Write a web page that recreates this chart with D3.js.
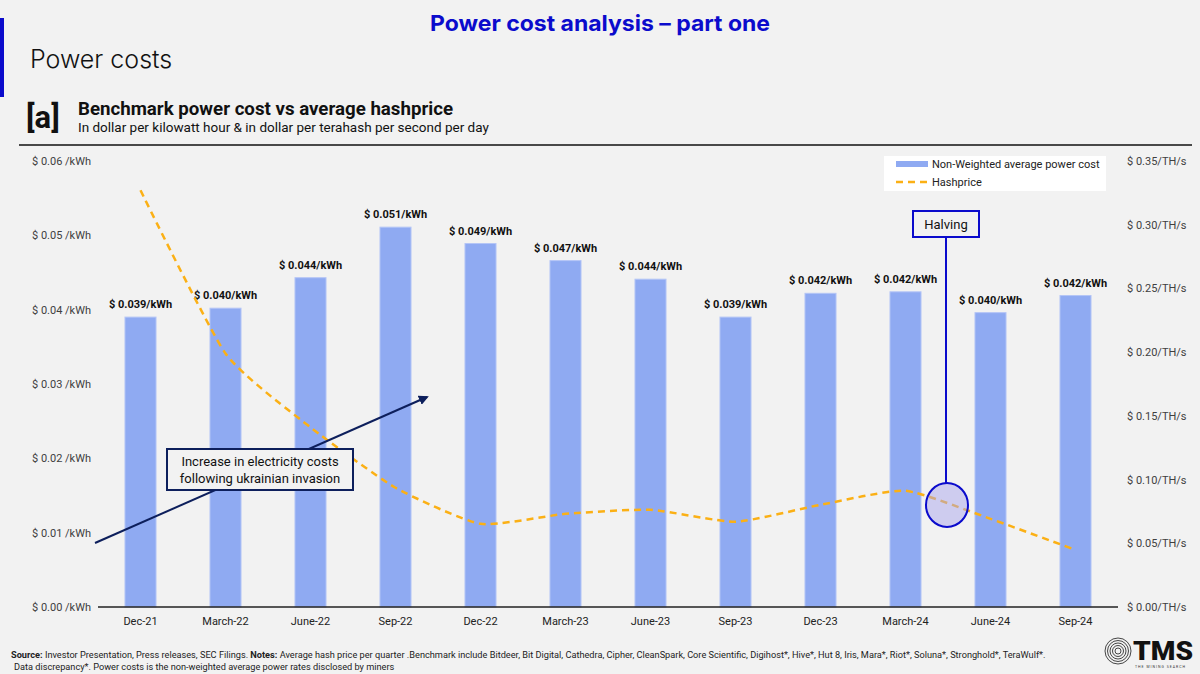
<!DOCTYPE html>
<html>
<head>
<meta charset="utf-8">
<script src="https://cdn.jsdelivr.net/npm/d3@7"></script>
<style>
  body { margin: 0; background: #f2f2f2; }
  svg { display: block; font-family: Roboto, "Noto Sans", sans-serif; }
</style>
</head>
<body>
<svg id="chart" width="1200" height="674"></svg>
<script>
// quarters on the x axis
let quarters = ["Dec-21", "March-22", "June-22", "Sep-22", "Dec-22", "March-23",
    "June-23", "Sep-23", "Dec-23", "March-24", "June-24", "Sep-24"];
// non-weighted average power cost, $/kWh
let powerCost = [0.0390, 0.0402, 0.0443, 0.0511, 0.0489, 0.0466,
    0.0441, 0.0390, 0.0422, 0.0424, 0.0396, 0.0419];
// average hashprice, $/TH/s/day
let hashprice = [0.327, 0.199, 0.141, 0.0936, 0.0653, 0.0731,
    0.0763, 0.0669, 0.0802, 0.0912, 0.0692, 0.0448];
let leftTicks = [0, 0.01, 0.02, 0.03, 0.04, 0.05, 0.06];
let rightTicks = [0, 0.05, 0.10, 0.15, 0.20, 0.25, 0.30, 0.35];

const svg = d3.select("#chart");
const blue = "#0b0bcc";

let x = d3.scaleBand().domain(quarters).range([98, 1118]).paddingInner(0.635).paddingOuter(0.3175);
let yL = d3.scaleLinear().domain([0, 0.06]).range([607, 161]);
let yR = d3.scaleLinear().domain([0, 0.35]).range([607, 161]);

// header
svg.append("text").attr("x", 600).attr("y", 31).attr("text-anchor", "middle")
    .attr("font-family", "Inter").attr("font-size", 22).attr("font-weight", 700).attr("fill", blue)
    .attr("textLength", 340).attr("lengthAdjust", "spacingAndGlyphs")
    .text("Power cost analysis \u2013 part one");
svg.append("rect").attr("x", 0).attr("y", 18).attr("width", 4).attr("height", 79).attr("fill", blue);
svg.append("text").attr("x", 30).attr("y", 68).attr("font-family", "Inter").attr("font-size", 25)
    .attr("font-weight", 300).attr("fill", "#111").text("Power costs");
svg.append("text").attr("x", 26).attr("y", 128).attr("font-size", 31).attr("font-weight", 700)
    .attr("fill", "#111").text("[a]");
svg.append("text").attr("x", 78).attr("y", 115).attr("font-size", 18).attr("font-weight", 700)
    .attr("fill", "#111").attr("textLength", 375).attr("lengthAdjust", "spacingAndGlyphs")
    .text("Benchmark power cost vs average hashprice");
svg.append("text").attr("x", 78).attr("y", 132).attr("font-size", 13.5).attr("font-weight", 400)
    .attr("fill", "#111").text("In dollar per kilowatt hour & in dollar per terahash per second per day");
svg.append("line").attr("x1", 19).attr("x2", 1192).attr("y1", 145).attr("y2", 145)
    .attr("stroke", "#111").attr("stroke-width", 1.5);

// left axis
let gL = svg.append("g").attr("transform", "translate(32,0)")
    .call(d3.axisRight(yL).tickValues(leftTicks).tickSize(0).tickFormat(d => "$ " + d.toFixed(2) + " /kWh"));
gL.select(".domain").remove();
gL.selectAll("text").attr("x", 0).attr("font-size", 11).attr("fill", "#404040").attr("font-family", "Roboto");

// right axis
let gR = svg.append("g").attr("transform", "translate(1127,0)")
    .call(d3.axisRight(yR).tickValues(rightTicks).tickSize(0).tickFormat(d => "$ " + d.toFixed(2) + "/TH/s"));
gR.select(".domain").remove();
gR.selectAll("text").attr("x", 0).attr("font-size", 11).attr("fill", "#404040").attr("font-family", "Roboto");

// bars
svg.append("g").selectAll("rect").data(quarters).join("rect")
    .attr("x", d => x(d)).attr("width", x.bandwidth())
    .attr("y", (d, i) => yL(powerCost[i])).attr("height", (d, i) => yL(0) - yL(powerCost[i]))
    .attr("fill", "#8faaf2").attr("stroke", "#b4c5f6").attr("stroke-width", 1);

svg.append("g").selectAll("text").data(quarters).join("text")
    .attr("x", d => x(d) + x.bandwidth() / 2).attr("y", (d, i) => yL(powerCost[i]) - 9)
    .attr("text-anchor", "middle").attr("font-size", 11).attr("font-weight", 700).attr("fill", "#111")
    .text((d, i) => "$ " + powerCost[i].toFixed(3) + "/kWh");

// x axis
let gX = svg.append("g").attr("transform", "translate(0,607)")
    .call(d3.axisBottom(x).tickSize(0).tickPadding(10));
gX.select(".domain").attr("stroke", "#222").attr("stroke-width", 1.5).attr("d", "M98,0H1118");
gX.selectAll("text").attr("font-size", 11).attr("fill", "#222").attr("font-family", "Roboto");

// hashprice line
let line = d3.line()
    .x((d, i) => x(quarters[i]) + x.bandwidth() / 2)
    .y(d => yR(d))
    .curve(d3.curveCardinal.tension(0.45));
svg.append("path").datum(hashprice).attr("d", line)
    .attr("fill", "none").attr("stroke", "#fbb015").attr("stroke-width", 2.5)
    .attr("stroke-dasharray", "7,5");

// legend
let lg = svg.append("g");
lg.append("rect").attr("x", 884).attr("y", 156).attr("width", 222).attr("height", 35).attr("fill", "#fff");
lg.append("rect").attr("x", 896).attr("y", 161).attr("width", 32).attr("height", 6).attr("fill", "#8faaf2");
lg.append("text").attr("x", 932).attr("y", 168).attr("font-size", 11).attr("fill", "#222")
    .text("Non-Weighted average power cost");
lg.append("line").attr("x1", 896).attr("x2", 928).attr("y1", 182).attr("y2", 182)
    .attr("stroke", "#fbb015").attr("stroke-width", 2.5).attr("stroke-dasharray", "7,5");
lg.append("text").attr("x", 932).attr("y", 186).attr("font-size", 11).attr("fill", "#222").text("Hashprice");

// ukraine annotation
svg.append("defs").append("marker").attr("id", "arr").attr("viewBox", "0 0 10 10")
    .attr("refX", 8).attr("refY", 5).attr("markerWidth", 5).attr("markerHeight", 5)
    .attr("orient", "auto").append("path").attr("d", "M0,0L10,5L0,10z").attr("fill", "#0d1f5c");
svg.append("line").attr("x1", 95).attr("y1", 543).attr("x2", 427).attr("y2", 397)
    .attr("stroke", "#0d1f5c").attr("stroke-width", 2).attr("marker-end", "url(#arr)");
svg.append("rect").attr("x", 167).attr("y", 449).attr("width", 186).attr("height", 41)
    .attr("fill", "#f2f2f2").attr("stroke", "#0d1f5c").attr("stroke-width", 2);
svg.append("text").attr("x", 260).attr("y", 466).attr("text-anchor", "middle").attr("font-size", 13)
    .attr("fill", "#111").text("Increase in electricity costs");
svg.append("text").attr("x", 260).attr("y", 483).attr("text-anchor", "middle").attr("font-size", 13)
    .attr("fill", "#111").text("following ukrainian invasion");

// halving annotation
svg.append("line").attr("x1", 946).attr("x2", 946).attr("y1", 237).attr("y2", 483)
    .attr("stroke", blue).attr("stroke-width", 2);
svg.append("rect").attr("x", 913).attr("y", 211).attr("width", 66).attr("height", 26)
    .attr("fill", "#f2f2f2").attr("stroke", blue).attr("stroke-width", 2);
svg.append("text").attr("x", 946).attr("y", 229).attr("text-anchor", "middle").attr("font-size", 13)
    .attr("fill", "#111").text("Halving");
svg.append("ellipse").attr("cx", 947).attr("cy", 505).attr("rx", 21).attr("ry", 22)
    .attr("fill", "rgba(170,165,235,0.5)").attr("stroke", blue).attr("stroke-width", 2);

// footer
let f1 = svg.append("text").attr("x", 11).attr("y", 658).attr("font-size", 9.2).attr("fill", "#222");
f1.append("tspan").attr("font-weight", 700).text("Source:");
f1.append("tspan").text(" Investor Presentation, Press releases, SEC Filings.  ");
f1.append("tspan").attr("font-weight", 700).text("Notes:");
f1.append("tspan").text(" Average hash price per quarter .Benchmark include Bitdeer, Bit Digital, Cathedra, Cipher, CleanSpark, Core Scientific, Digihost*, Hive*, Hut 8, Iris, Mara*, Riot*, Soluna*, Stronghold*, TeraWulf*.");
svg.append("text").attr("x", 14).attr("y", 670).attr("font-size", 9.2).attr("fill", "#222")
    .text("Data discrepancy*. Power costs is the non-weighted average power rates disclosed by miners");

// logo
let logo = svg.append("g");
[13, 10.5, 8, 5.5, 3].forEach(r => {
    logo.append("circle").attr("cx", 1118).attr("cy", 651).attr("r", r)
        .attr("fill", "none").attr("stroke", "#333").attr("stroke-width", 0.9);
});
logo.append("text").attr("x", 1133).attr("y", 660).attr("font-size", 25).attr("font-weight", 900)
    .attr("fill", "#111").attr("textLength", 60).attr("lengthAdjust", "spacingAndGlyphs").text("TMS");
logo.append("text").attr("x", 1135).attr("y", 668).attr("font-size", 3.5)
    .attr("fill", "#333").attr("letter-spacing", 1).text("THE MINING SEARCH");
</script>
</body>
</html>
